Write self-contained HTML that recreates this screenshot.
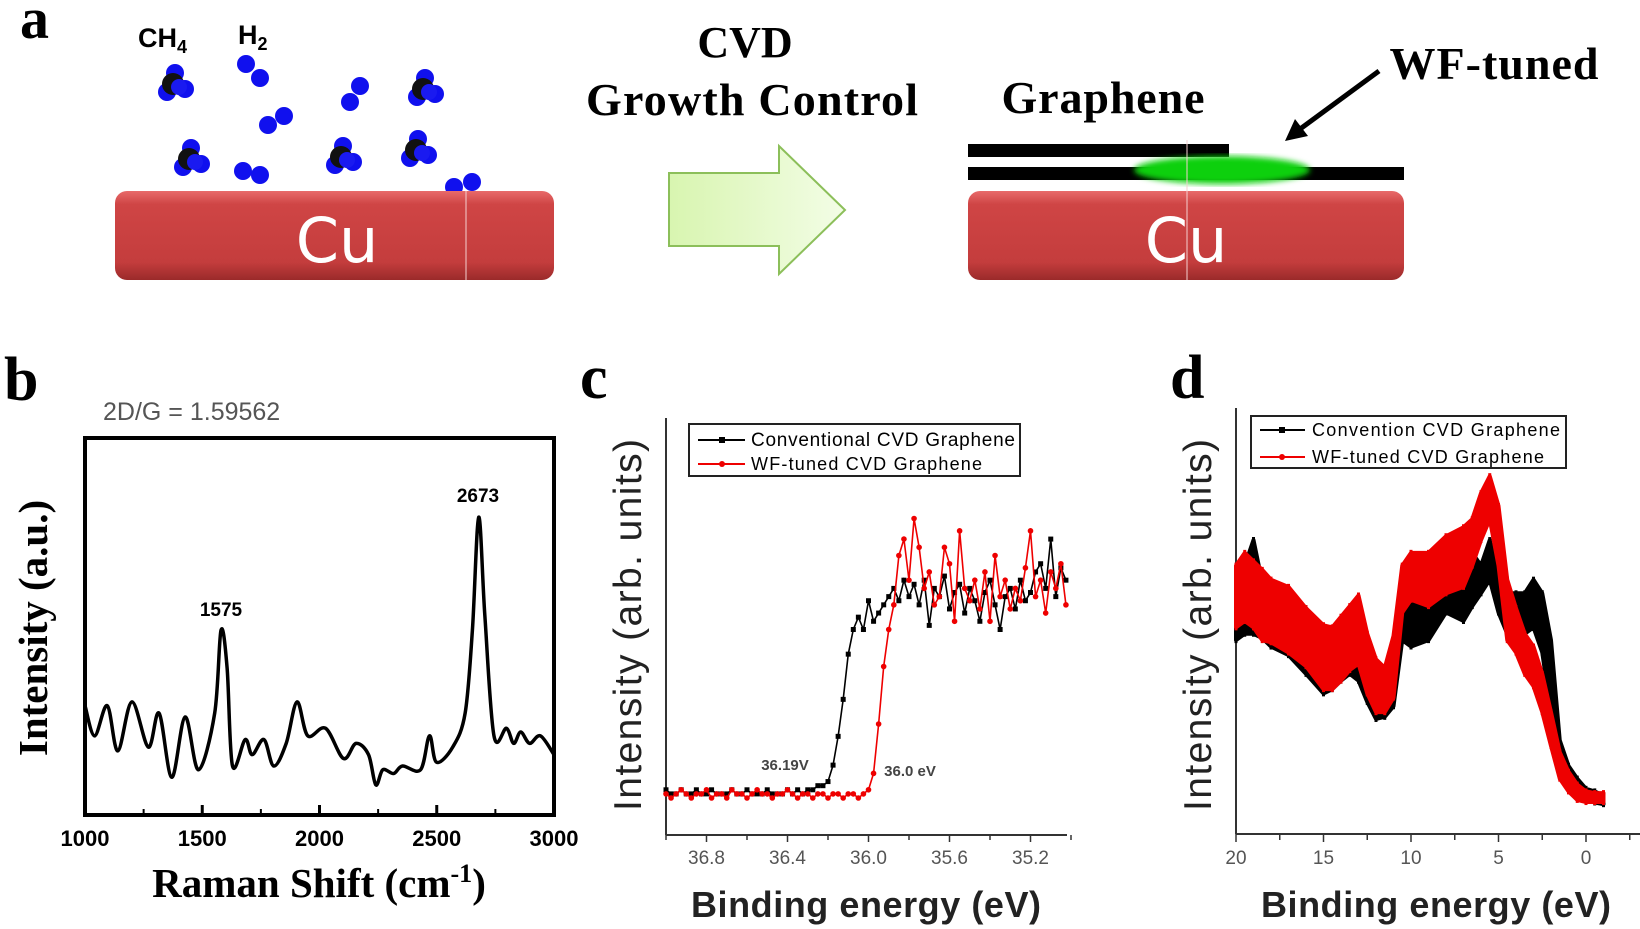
<!DOCTYPE html>
<html><head><meta charset="utf-8"><style>
html,body{margin:0;padding:0;background:#fff;}
svg{display:block;}
.serif{font-family:"Liberation Serif",serif;font-weight:bold;}
.sans{font-family:"Liberation Sans",sans-serif;}
</style></head><body>
<svg id="fig" width="1640" height="929" viewBox="0 0 1640 929" xmlns="http://www.w3.org/2000/svg">
<defs>
<linearGradient id="cuGrad" x1="0" y1="0" x2="0" y2="1">
<stop offset="0" stop-color="#e86a6a"/><stop offset="0.15" stop-color="#cf4545"/><stop offset="0.8" stop-color="#c43d3d"/><stop offset="1" stop-color="#9a2a2a"/></linearGradient>
<linearGradient id="arrGrad" x1="0" y1="0" x2="1" y2="0">
<stop offset="0" stop-color="#d8f5b0"/><stop offset="1" stop-color="#f3fde6"/></linearGradient>
<filter id="blur"><feGaussianBlur stdDeviation="3"/></filter>
</defs>

<!-- Panel a -->
<g>
<text x="20" y="38" class="serif" font-size="58">a</text>
<text x="138" y="47" class="sans" font-weight="bold" font-size="27">CH<tspan font-size="18" dy="6">4</tspan></text>
<text x="238" y="44" class="sans" font-weight="bold" font-size="27">H<tspan font-size="18" dy="6">2</tspan></text>
<g id="molecules"></g>
<rect x="115" y="191" width="439" height="89" rx="12" fill="url(#cuGrad)"/>
<line x1="466" y1="191" x2="466" y2="280" stroke="#f4d0d0" stroke-width="1"/>
<text x="337" y="262" text-anchor="middle" fill="#fff" font-family="'DejaVu Sans',sans-serif" font-size="62">Cu</text>

<text x="745" y="57" text-anchor="middle" class="serif" font-size="44">CVD</text>
<text x="752" y="115" text-anchor="middle" class="serif" font-size="46" textLength="332">Growth  Control</text>
<polygon points="669,173 779,173 779,146 845,210 779,274 779,246 669,246" fill="url(#arrGrad)" stroke="#8cbf5a" stroke-width="2"/>

<text x="1103" y="113" text-anchor="middle" class="serif" font-size="46" textLength="203">Graphene</text>
<text x="1494" y="79" text-anchor="middle" class="serif" font-size="46" textLength="209">WF-tuned</text>
<line x1="1379" y1="71" x2="1296" y2="132" stroke="#000" stroke-width="5"/>
<polygon points="1285,141 1295,119 1308,136" fill="#000"/>
<rect x="968" y="144" width="261" height="13" fill="#000"/>
<rect x="968" y="167" width="436" height="13" fill="#000"/>
<ellipse cx="1222" cy="170" rx="88" ry="14" fill="#10d010" filter="url(#blur)"/>
<rect x="968" y="191" width="436" height="89" rx="12" fill="url(#cuGrad)"/>
<line x1="1187" y1="140" x2="1187" y2="280" stroke="#f4d0d0" stroke-width="1"/>
<text x="1186" y="262" text-anchor="middle" fill="#fff" font-family="'DejaVu Sans',sans-serif" font-size="62">Cu</text>
</g>

<!-- Panel b -->
<g>
<text x="4" y="400" class="serif" font-size="62">b</text>
<text x="103" y="420" class="sans" font-size="25" fill="#555">2D/G = 1.59562</text>
<rect x="85" y="438" width="469" height="377" fill="none" stroke="#000" stroke-width="4"/>
<g id="bAxis"></g>
<path id="ramanLine" fill="none" stroke="#000" stroke-width="3.5" stroke-linejoin="round"/>
<text x="221" y="616" text-anchor="middle" class="sans" font-weight="bold" font-size="19">1575</text>
<text x="478" y="502" text-anchor="middle" class="sans" font-weight="bold" font-size="19">2673</text>
<text x="319" y="897" text-anchor="middle" class="serif" font-size="41">Raman Shift (cm<tspan font-size="26" dy="-15">-1</tspan><tspan dy="15">)</tspan></text>
<text transform="translate(47,628) rotate(-90)" text-anchor="middle" class="serif" font-size="41">Intensity (a.u.)</text>
</g>

<!-- Panel c -->
<g>
<text x="580" y="398" class="serif" font-size="62">c</text>
<line x1="666" y1="418" x2="666" y2="835" stroke="#333" stroke-width="2"/>
<g id="cAxis"></g>
<g id="cData"></g>
<text x="785" y="770" text-anchor="middle" class="sans" font-weight="bold" font-size="15" fill="#444">36.19V</text>
<text x="910" y="776" text-anchor="middle" class="sans" font-weight="bold" font-size="15" fill="#444">36.0 eV</text>
<g>
<rect x="689" y="424" width="331" height="52" fill="#fff" stroke="#222" stroke-width="2"/>
<line x1="698" y1="440" x2="745" y2="440" stroke="#000" stroke-width="2"/>
<rect x="719" y="437" width="6" height="6" fill="#000"/>
<text x="751" y="446" class="sans" font-size="19" textLength="264">Conventional CVD Graphene</text>
<line x1="698" y1="464" x2="745" y2="464" stroke="#e00" stroke-width="2"/>
<circle cx="722" cy="464" r="3" fill="#e00"/>
<text x="751" y="470" class="sans" font-size="18" textLength="231">WF-tuned CVD Graphene</text>
</g>
<text x="866" y="917" text-anchor="middle" class="sans" font-weight="bold" font-size="36" textLength="350" fill="#222">Binding energy (eV)</text>
<text transform="translate(641,625) rotate(-90)" text-anchor="middle" class="sans" font-size="39" textLength="372" fill="#222">Intensity (arb. units)</text>
</g>

<!-- Panel d -->
<g>
<text x="1170" y="398" class="serif" font-size="62">d</text>
<line x1="1236" y1="408" x2="1236" y2="834" stroke="#333" stroke-width="2"/>
<g id="dAxis"></g>
<g id="dData"></g>
<g>
<rect x="1251" y="416" width="315" height="52" fill="#fff" stroke="#222" stroke-width="2"/>
<line x1="1260" y1="430" x2="1305" y2="430" stroke="#000" stroke-width="2"/>
<rect x="1279" y="427" width="6" height="6" fill="#000"/>
<text x="1312" y="436" class="sans" font-size="18" textLength="248">Convention CVD Graphene</text>
<line x1="1260" y1="457" x2="1305" y2="457" stroke="#e00" stroke-width="2"/>
<circle cx="1282" cy="457" r="3" fill="#e00"/>
<text x="1312" y="463" class="sans" font-size="18" textLength="232">WF-tuned CVD Graphene</text>
</g>
<text x="1436" y="917" text-anchor="middle" class="sans" font-weight="bold" font-size="36" textLength="350" fill="#222">Binding energy (eV)</text>
<text transform="translate(1211,625) rotate(-90)" text-anchor="middle" class="sans" font-size="39" textLength="372" fill="#222">Intensity (arb. units)</text>
</g>
</svg>
<script>
// ---------- Panel b data ----------
const ramanShift = [1000,1041,1095,1140,1200,1270,1316,1370,1427,1484,1553,1580,1606,1629,1683,1713,1763,1805,1858,1904,1950,2026,2102,2156,2209,2240,2270,2316,2354,2431,2469,2499,2568,2621,2652,2679,2705,2744,2797,2828,2858,2896,2942,3000];
const ramanIntensity = [29,21,29,17,30,18,27,10,26,12,27,49,39,13,20,16,20,13,19,30,21,23,15,19,16,8,12,11,13,12,21,14,18,27,49,79,53,21,23,19,22,19,21,16];
const ramanTicks = [1000,1500,2000,2500,3000];
const ramanMinor = [1250,1750,2250,2750];

// ---------- Panel c data ----------
const energyC = [37.000,36.975,36.950,36.925,36.900,36.875,36.850,36.825,36.800,36.775,36.750,36.725,36.700,36.675,36.650,36.625,36.600,36.575,36.550,36.525,36.500,36.475,36.450,36.425,36.400,36.375,36.350,36.325,36.300,36.275,36.250,36.225,36.200,36.175,36.150,36.125,36.100,36.075,36.050,36.025,36.000,35.975,35.950,35.925,35.900,35.875,35.850,35.825,35.800,35.775,35.750,35.725,35.700,35.675,35.650,35.625,35.600,35.575,35.550,35.525,35.500,35.475,35.450,35.425,35.400,35.375,35.350,35.325,35.300,35.275,35.250,35.225,35.200,35.175,35.150,35.125,35.100,35.075,35.050,35.025];
const conventionalC = [11,10,10,11,10,10,11,10,10,11,10,10,10,11,10,10,11,10,10,10,11,10,10,10,11,10,11,10,11,11,12,12,13,17,24,33,44,50,53,50,57,52,54,56,58,60,57,62,58,61,56,62,51,60,58,63,55,59,61,54,60,57,52,59,62,56,50,58,60,55,62,57,59,64,66,60,72,58,65,62];
const wfTunedC = [10,9,10,11,10,9,10,10,11,9,10,10,9,11,10,10,9,10,11,10,10,9,10,10,11,10,9,10,10,9,10,10,9,10,10,9,10,10,9,10,11,15,27,41,50,56,68,72,62,77,70,60,64,56,58,70,66,52,74,60,57,62,55,64,52,68,58,62,55,60,57,65,74,58,62,54,64,60,66,56];
const ticksC = [36.8,36.4,36.0,35.6,35.2];
const minorC = [37.0,36.6,36.2,35.8,35.4,35.0];

// ---------- Panel d data ----------
const energyD = [20,19.5,19,18.5,18,17,16,15,14.5,14,13.5,13,12.5,12,11.5,11,10.5,10,9,8,7,6.5,6,5.5,5,4.5,4,3.5,3,2.5,2,1.5,1,0.5,0,-0.5,-1];
const conventionalUpperD = [61,63,69,59,57,56,53,47,47,48,45.5,41,39,37.6,36,45.5,59,64,65,68,69,66,63,69,59.7,56.5,56.5,56.5,59.7,56.5,45.5,22,16,13,10.6,10,9];
const conventionalLowerD = [45.5,47,47,46,44,42,37.6,33,34,36,37.6,36,31,27,27.5,30,45.5,44,45.5,52,50,53.5,56.5,59.7,52,47,44,47,48.5,42.6,28.6,16.6,11.6,10,8,7.4,7];
const wfUpperD = [63,66,64,62,59.7,58,53,49,48.5,51,53.5,56,47,41,39,46.5,63,66,66,69.9,72,73.9,80,84,77,59.7,53,47,44,37.6,28.6,19.2,14.6,11.6,10,9.6,9.6];
const wfLowerD = [48.5,50,48.5,45.5,45,42.6,39.4,34,34,36,38.5,40,33,28.6,28.6,32,52,55,53.5,56.5,58,63,69,73.9,63,45.5,42.6,37.6,34.7,28.6,20.7,13,10,8,7.5,7.5,7.5];
const ticksD = [20,15,10,5,0];
const minorD = [17.5,12.5,7.5,2.5,-2.5];

// ---------- Panel a molecule data ----------
const methaneX = [175,191,343,425,418];
const methaneY = [84,159,157,89,150];
const hydrogenX1 = [246,268,243,350,454];
const hydrogenY1 = [64,125,171,102,187];
const hydrogenX2 = [260,284,260,360,472];
const hydrogenY2 = [78,116,175,86,182];

const NS = 'http://www.w3.org/2000/svg';
function mk(tag, attrs, parent){ const e=document.createElementNS(NS,tag); for(const k in attrs) e.setAttribute(k,attrs[k]); parent.appendChild(e); return e; }

const xb = v => 85 + (v-1000)/2000*469;
const yb = v => 815 - v/100*377;
const xc = e => 666 + (37-e)*202.5;
const yc = v => 835 - v/100*411;
const xd = e => 1236 + (20-e)*17.5;
const yd = v => 834 - v/100*426;

const mol = document.getElementById('molecules');
for(let i=0;i<methaneX.length;i++){
  const g = mk('g',{},mol);
  
  
  const cx=methaneX[i], cy=methaneY[i];
  mk('circle',{cx:cx-8,cy:cy+8,r:9,fill:'#1010ee'},g);
  mk('circle',{cx:cx+10,cy:cy+5,r:9,fill:'#1010ee'},g);
  mk('circle',{cx:cx,cy:cy-11,r:9,fill:'#1010ee'},g);
  mk('circle',{cx:cx-2,cy:cy,r:11,fill:'#111'},g);
  mk('circle',{cx:cx+4,cy:cy+3,r:8,fill:'#1a1af0'},g);
}
for(let i=0;i<hydrogenX1.length;i++){
  const g = mk('g',{},mol);
  
  
  mk('circle',{cx:hydrogenX1[i],cy:hydrogenY1[i],r:9,fill:'#1010ee'},g);
  mk('circle',{cx:hydrogenX2[i],cy:hydrogenY2[i],r:9,fill:'#1010ee'},g);
}

const bAx = document.getElementById('bAxis');
ramanTicks.forEach(t=>{
  const l = mk('line',{x1:xb(t),y1:815,x2:xb(t),y2:805,stroke:'#000','stroke-width':3},bAx);
  
  
  const tx = mk('text',{x:xb(t),y:846,'text-anchor':'middle','font-family':'Liberation Sans, sans-serif','font-weight':'bold','font-size':22},bAx);
  
  
  tx.textContent = t;
});
ramanMinor.forEach(t=>{
  const l = mk('line',{x1:xb(t),y1:815,x2:xb(t),y2:809,stroke:'#000','stroke-width':2},bAx);
  
  
});
(function(){
  const P = ramanShift.map((s,i)=>[xb(s),yb(ramanIntensity[i])]);
  let d = 'M'+P[0][0]+','+P[0][1];
  for(let i=0;i<P.length-1;i++){
    const p0=P[Math.max(0,i-1)],p1=P[i],p2=P[i+1],p3=P[Math.min(P.length-1,i+2)];
    const c1=[p1[0]+(p2[0]-p0[0])/6,p1[1]+(p2[1]-p0[1])/6];
    const c2=[p2[0]-(p3[0]-p1[0])/6,p2[1]-(p3[1]-p1[1])/6];
    d+=' C'+c1[0]+','+c1[1]+' '+c2[0]+','+c2[1]+' '+p2[0]+','+p2[1];
  }
  document.getElementById('ramanLine').setAttribute('d',d);
})();

const cAx = document.getElementById('cAxis');
const cAxisLine = mk('line',{x1:666,y1:835,x2:1067,y2:835,stroke:'#333','stroke-width':2},cAx);


ticksC.forEach(t=>{
  const l = mk('line',{x1:xc(t),y1:835,x2:xc(t),y2:842,stroke:'#333','stroke-width':1.5},cAx);
  
  
  const tx = mk('text',{x:xc(t),y:864,'text-anchor':'middle','font-family':'Liberation Sans, sans-serif','font-size':19,fill:'#555'},cAx);
  
  
  tx.textContent = t.toFixed(1);
});
minorC.forEach(t=>{
  const l = mk('line',{x1:xc(t),y1:835,x2:xc(t),y2:840,stroke:'#333','stroke-width':1.5},cAx);
  
  
});
const cD = document.getElementById('cData');
function seriesC(vals,color,name,square){
  const pts = energyC.map((e,i)=>xc(e)+','+yc(vals[i])).join(' ');
  const pl = mk('polyline',{points:pts,fill:'none',stroke:color,'stroke-width':1.6},cD);
  
  
  energyC.forEach((e,i)=>{
    let m;
    if(square) m = mk('rect',{x:xc(e)-2.5,y:yc(vals[i])-2.5,width:5,height:5,fill:color},cD);
    else m = mk('circle',{cx:xc(e),cy:yc(vals[i]),r:2.8,fill:color},cD);
    
    
  });
}
seriesC(conventionalC,'#000','c-conventional',true);
seriesC(wfTunedC,'#ee0000','c-wf-tuned',false);

const dAx = document.getElementById('dAxis');
const dAxisLine = mk('line',{x1:1236,y1:834,x2:1640,y2:834,stroke:'#333','stroke-width':2},dAx);


ticksD.forEach(t=>{
  const l = mk('line',{x1:xd(t),y1:834,x2:xd(t),y2:842,stroke:'#333','stroke-width':1.5},dAx);
  
  
  const tx = mk('text',{x:xd(t),y:864,'text-anchor':'middle','font-family':'Liberation Sans, sans-serif','font-size':19,fill:'#555'},dAx);
  
  
  tx.textContent = t;
});
minorD.forEach(t=>{
  const l = mk('line',{x1:xd(t),y1:834,x2:xd(t),y2:840,stroke:'#333','stroke-width':1.5},dAx);
  
  
});
const dD = document.getElementById('dData');
function bandD(up,lo,color,name){
  const top = energyD.map((e,i)=>xd(e)+','+yd(up[i]));
  const bot = energyD.map((e,i)=>xd(e)+','+yd(lo[i])).reverse();
  const pg = mk('polygon',{points:top.concat(bot).join(' '),fill:color,stroke:color,'stroke-width':4,'stroke-linejoin':'round'},dD);
  
  
  energyD.forEach((e,i)=>{
    const m = mk('line',{x1:xd(e),y1:yd(up[i])-3,x2:xd(e),y2:yd(lo[i])+3,stroke:color,'stroke-width':3},dD);
    
    
  });
}
bandD(conventionalUpperD,conventionalLowerD,'#000','d-conventional');
bandD(wfUpperD,wfLowerD,'#ee0000','d-wf-tuned');
</script>
</body></html>
